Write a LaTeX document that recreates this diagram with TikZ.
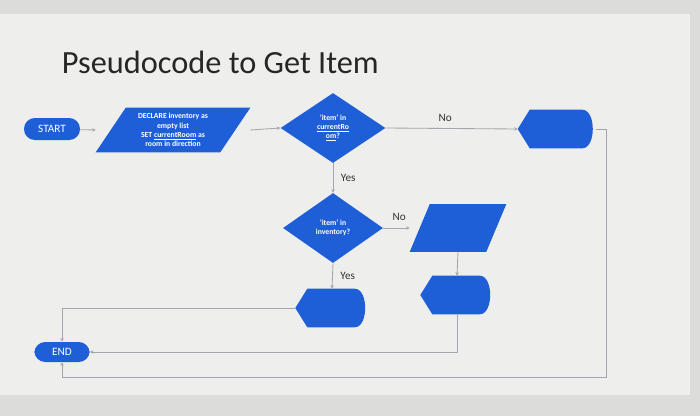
\documentclass[tikz,border=0pt]{standalone}
\usepackage{fontspec}
\setmainfont{Carlito}
\usetikzlibrary{shapes.geometric,arrows.meta}
\definecolor{fb}{HTML}{1E5FD8}
\definecolor{ln}{HTML}{A3A6AA}
\definecolor{bg}{HTML}{DCDCDA}
\definecolor{slide}{HTML}{EEEEEC}
\tikzset{
  x=0.025cm,y=-0.025cm,
  box/.style={inner sep=0pt,text=white,font=\fontsize{5.5}{6.5}\selectfont\bfseries,align=center},
  term/.style={box,fill=fb,rounded corners=0.27cm,font=\fontsize{8}{9}\selectfont},
  dia/.style={box,diamond,fill=fb,minimum width=2.62cm,minimum height=1.75cm},
  conn/.style={draw=ln,line width=0.6pt,-{Stealth[length=2.5pt,width=2.5pt]}},
  plain/.style={draw=ln,line width=0.6pt},
  lab/.style={font=\fontsize{8}{9}\selectfont,text=black!80}
}
\newcommand\parashape[2]{\fill[fb] ([xshift=#2]#1.north west) -- (#1.north east) -- ([xshift=-#2]#1.south east) -- (#1.south west) -- cycle;}
\newcommand\dispshape[1]{\fill[fb] (#1.west) -- ([xshift=0.3cm]#1.north west) -- ([xshift=-0.35cm]#1.north east) .. controls (#1.north east) and (#1.south east) .. ([xshift=-0.35cm]#1.south east) -- ([xshift=0.3cm]#1.south west) -- cycle;}
\begin{document}
\begin{tikzpicture}
\useasboundingbox (0,0) rectangle (700,416);
\fill[bg] (0,0) rectangle (700,416);
\fill[slide] (0,14) rectangle (690,395);
\node[anchor=west,font=\fontsize{23}{26}\selectfont,text=black!85] (title) at (57,62) {Pseudocode to Get Item};
% nodes
\node[term,minimum width=1.4cm,minimum height=0.55cm] (start) at (52,129) {START};
\node[box,minimum width=3.85cm,minimum height=1.1cm] (p1) at (173,130) {};
\parashape{p1}{0.75cm}
\node[box] at (p1) {DECLARE inventory as\\empty list\\SET \underline{currentRoom} as\\room in direction};
\node[dia] (d1) at (333,128) {'item' in\\\underline{currentRo}\\\underline{om}?};
\node[box,minimum width=1.95cm,minimum height=0.95cm] (s1) at (557,129) {};
\dispshape{s1}
\node[dia,minimum width=2.5cm] (d2) at (333,228) {'item' in\\inventory?};
\node[box,minimum width=2.4cm,minimum height=1.18cm] (p2) at (458,228) {};
\parashape{p2}{0.5cm}
\node[box,minimum width=1.82cm,minimum height=0.95cm] (s3) at (457,295) {};
\dispshape{s3}
\node[box,minimum width=1.82cm,minimum height=0.95cm] (s2) at (332,308) {};
\dispshape{s2}
\node[term,minimum width=1.38cm,minimum height=0.5cm] (end) at (62,352) {END};
\coordinate (c1) at (606,377);
% connectors
\draw[conn] (start) -- (p1.west);
\draw[conn] (p1.east) -- (d1.west);
\draw[conn] (d1.east) -- node[lab,above=1pt,pos=0.45] {No} (s1.west);
\draw[conn] (d1.south) -- node[lab,right=2pt] {Yes} (d2.north);
\draw[conn] (d2.east) -- node[lab,above=2pt,pos=0.6] {No} (p2.west);
\draw[conn] (d2.south) -- node[lab,right=2pt] {Yes} (s2.north);
\draw[conn] (p2.south) -- (s3.north);
\draw[conn] (s2.west) -| (end.north);
\draw[conn] (s3.south) |- (end.east);
\draw[conn] (s1.east) -| (c1) -| (end.south);
\end{tikzpicture}
\end{document}
